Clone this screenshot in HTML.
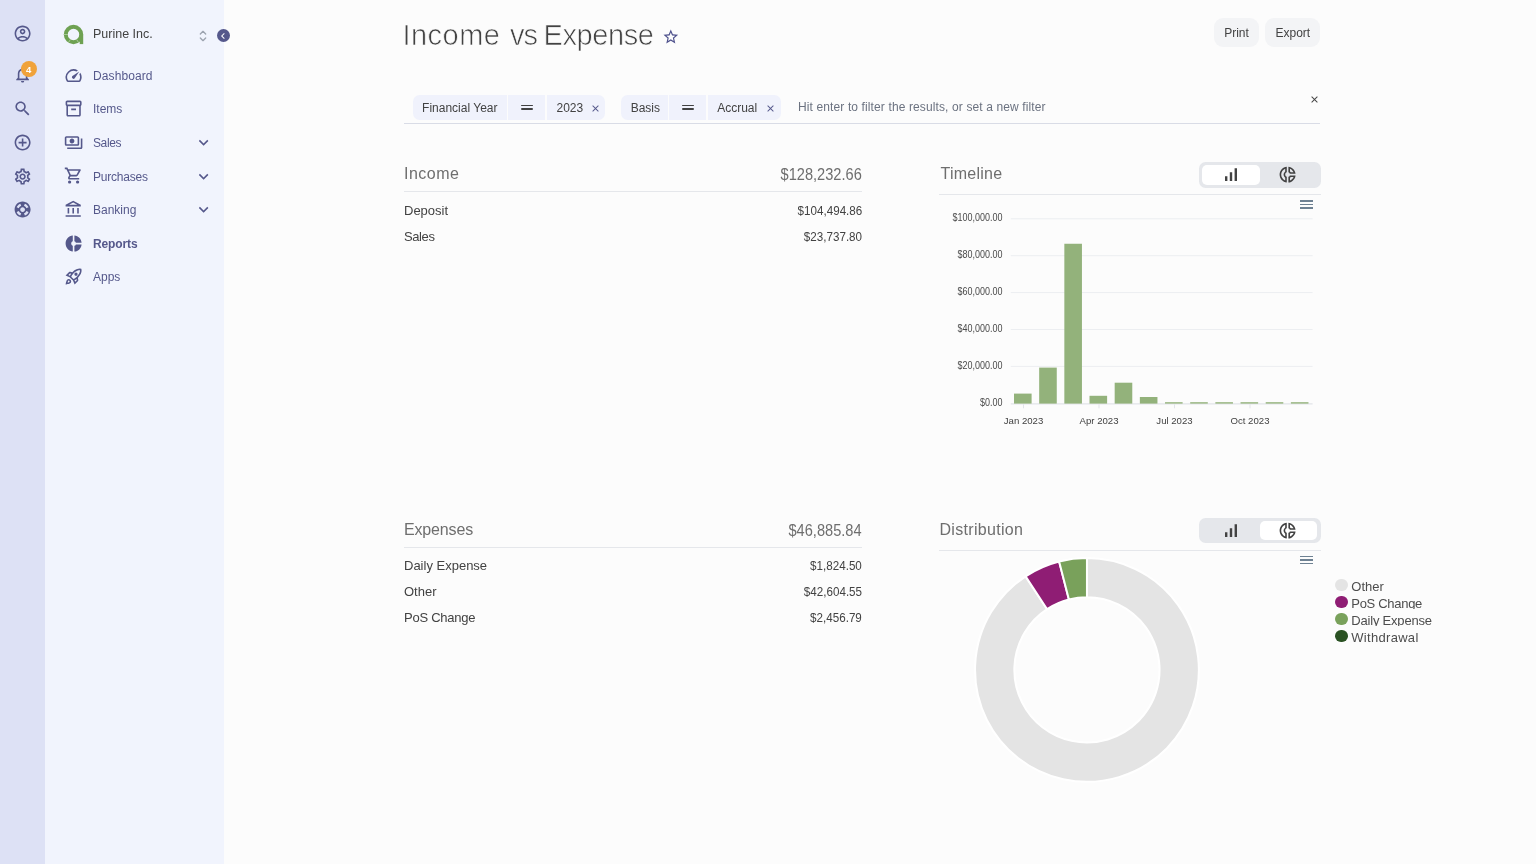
<!DOCTYPE html>
<html lang="en">
<head>
<meta charset="utf-8">
<title>Income vs Expense</title>
<style>
*{box-sizing:border-box;margin:0;padding:0}
html,body{width:1536px;height:864px;overflow:hidden;background:#fcfcfc}
body{font-family:"Liberation Sans",sans-serif;color:#424242;position:relative;font-size:13px}
.abs{position:absolute}
svg{display:block}
/* rail + sidebar */
#rail{position:absolute;left:0;top:0;width:44.8px;height:864px;background:#dde1f5}
#side{position:absolute;left:44.8px;top:0;width:179.2px;height:864px;background:#f1f4fd}
.ri{position:absolute;color:#55588b;fill:#55588b}
.mi{position:absolute;left:0;width:224px;height:20px;color:#55588b;font-size:12px;line-height:20px}
.mi svg{position:absolute;fill:#55588b}
.mi span{position:absolute;left:93px;top:.5px;white-space:nowrap}
.mi .chev{left:194px;top:1px}

/* main */
#title{position:absolute;left:402.400px;top:14.500px;height:40px;line-height:40px;font-size:29px;color:#424242;white-space:nowrap;letter-spacing:-.25px;-webkit-text-stroke:.7px #fcfcfc}
.btn{position:absolute;top:18px;height:29px;border-radius:9px;background:#f3f4f6;color:#424242;font-size:12px;line-height:31px;text-align:center;white-space:nowrap}
.chip{position:absolute;top:95px;height:25px;background:#f0f2fc;color:#424242;font-size:12px;line-height:25.300px;white-space:nowrap}
.chip span{position:absolute;top:.800px}
.chip svg{position:absolute;fill:#55588b}
.eq{position:absolute;left:12.300px;width:12.700px;height:1.800px;background:#424242;border-radius:1px}
.sect{position:absolute;font-size:16px;line-height:24px;height:24px;color:#6e6e6e;white-space:nowrap}
.row{position:absolute;font-size:13px;line-height:20px;height:20px;color:#424242;white-space:nowrap}
.r{text-align:right}
.row.r{font-size:13px}
.row.r span{display:inline-block;transform:scaleX(.895);transform-origin:100% 50%}
.sect.v{font-size:16.5px}
.sect.v span{display:inline-block;transform:scaleX(.885);transform-origin:100% 50%}
.hr{position:absolute;height:1px;background:#e5e7eb}
.tog{position:absolute;left:1199px;width:121.600px;height:25.700px;border-radius:6.500px;background:#e5e7eb}
.tog i{position:absolute;top:3px;width:57.800px;height:19.500px;border-radius:5px;background:#fff}
.tog svg{position:absolute;top:3.300px;fill:#424242}
.burger{position:absolute;left:1300.300px;width:12.600px;height:9px}
.burger b{position:absolute;left:0;width:12.600px;height:1.500px;background:#6e8192}

.lg{position:absolute;left:1335px;width:180px;height:13.2px;font-size:13px;color:#4d4d4d;white-space:nowrap}
.lg i{position:absolute;left:0;top:-.7px;width:12.600px;height:12.600px;border-radius:50%}
.lg u{position:absolute;left:16.300px;top:0;width:160px;height:12.600px;overflow:hidden;text-decoration:none}
.lg span{position:absolute;left:0;top:0;line-height:15px;height:15px}
</style>
</head>
<body>
<svg width="0" height="0" style="position:absolute">
<defs>
<symbol id="i-user" viewBox="0 0 24 24"><path d="M12 2C6.48 2 2 6.48 2 12s4.48 10 10 10 10-4.480 10-10S17.520 2 12 2zM7.350 18.500C8.660 17.560 10.260 17 12 17s3.340.560 4.650 1.500C15.340 19.440 13.740 20 12 20s-3.340-.560-4.650-1.500zm10.790-1.380C16.450 15.800 14.320 15 12 15s-4.450.800-6.140 2.120C4.700 15.730 4 13.950 4 12c0-4.420 3.580-8 8-8s8 3.580 8 8c0 1.950-.700 3.730-1.860 5.120z"/><path d="M12 6c-1.930 0-3.500 1.570-3.500 3.500S10.070 13 12 13s3.500-1.570 3.500-3.500S13.930 6 12 6zm0 5c-.830 0-1.500-.670-1.500-1.500S11.170 8 12 8s1.500.670 1.500 1.500S12.830 11 12 11z"/></symbol>
<symbol id="i-bell" viewBox="0 0 24 24"><path d="M12 22c1.100 0 2-.900 2-2h-4c0 1.100.900 2 2 2zm6-6v-5c0-3.070-1.630-5.640-4.500-6.320V4c0-.830-.670-1.500-1.500-1.500s-1.500.670-1.500 1.500v.680C7.640 5.360 6 7.920 6 11v5l-2 2v1h16v-1l-2-2zm-2 1H8v-6c0-2.480 1.510-4.500 4-4.500s4 2.020 4 4.500v6z"/></symbol>
<symbol id="i-search" viewBox="0 0 24 24"><path d="M15.500 14h-.790l-.280-.270C15.410 12.590 16 11.110 16 9.500 16 5.910 13.090 3 9.500 3S3 5.910 3 9.500 5.910 16 9.500 16c1.610 0 3.090-.590 4.230-1.570l.270.280v.790l5 4.990L20.490 19l-4.990-5zm-6 0C7.010 14 5 11.990 5 9.500S7.010 5 9.500 5 14 7.010 14 9.500 11.990 14 9.500 14z"/></symbol>
<symbol id="i-add" viewBox="0 0 24 24"><path d="M13 7h-2v4H7v2h4v4h2v-4h4v-2h-4V7zm-1-5C6.480 2 2 6.480 2 12s4.480 10 10 10 10-4.480 10-10S17.520 2 12 2zm0 18c-4.410 0-8-3.590-8-8s3.590-8 8-8 8 3.590 8 8-3.590 8-8 8z"/></symbol>
<symbol id="i-gear" viewBox="0 0 24 24"><path d="M19.430 12.980c.040-.320.070-.640.070-.980 0-.340-.030-.660-.070-.980l2.110-1.650c.190-.150.240-.420.120-.640l-2-3.460c-.090-.160-.260-.250-.440-.250-.060 0-.120.010-.170.030l-2.490 1c-.520-.400-1.080-.730-1.690-.980l-.380-2.650C14.460 2.180 14.250 2 14 2h-4c-.250 0-.460.180-.490.420l-.380 2.650c-.610.250-1.170.590-1.690.980l-2.490-1c-.060-.020-.120-.030-.180-.030-.170 0-.340.090-.430.250l-2 3.460c-.130.220-.070.490.120.640l2.110 1.650c-.040.320-.070.650-.070.980 0 .330.030.660.070.980l-2.110 1.650c-.190.150-.240.420-.120.640l2 3.460c.090.160.260.250.440.250.060 0 .120-.010.170-.030l2.490-1c.520.400 1.080.730 1.690.980l.380 2.650c.030.240.240.420.490.420h4c.250 0 .460-.180.490-.420l.380-2.650c.610-.250 1.170-.590 1.690-.980l2.490 1c.060.020.120.030.180.030.170 0 .340-.090.430-.250l2-3.460c.120-.220.070-.490-.120-.640l-2.110-1.650zm-1.980-1.710c.040.310.050.520.050.730 0 .210-.020.430-.050.730l-.140 1.130.890.700 1.080.840-.700 1.210-1.270-.510-1.040-.420-.900.680c-.430.320-.840.560-1.250.730l-1.060.430-.160 1.130-.200 1.350h-1.400l-.190-1.350-.160-1.130-1.060-.430c-.430-.180-.830-.410-1.230-.710l-.910-.700-1.060.430-1.270.510-.700-1.210 1.080-.840.890-.700-.140-1.130c-.030-.310-.050-.540-.050-.740s.020-.430.050-.730l.140-1.130-.890-.700-1.080-.840.700-1.210 1.270.510 1.040.420.900-.680c.430-.320.840-.560 1.250-.730l1.060-.430.160-1.130.200-1.350h1.390l.190 1.350.160 1.130 1.060.430c.430.180.830.410 1.230.710l.910.700 1.060-.430 1.270-.510.700 1.210-1.070.850-.890.700.140 1.130zM12 8c-2.210 0-4 1.790-4 4s1.790 4 4 4 4-1.790 4-4-1.790-4-4-4zm0 6c-1.100 0-2-.900-2-2s.900-2 2-2 2 .900 2 2-.900 2-2 2z"/></symbol>
<symbol id="i-support" viewBox="0 0 24 24"><path d="M12 2C6.480 2 2 6.480 2 12s4.480 10 10 10 10-4.480 10-10S17.520 2 12 2zm7.460 7.120l-2.780 1.150c-.510-1.360-1.580-2.440-2.950-2.940l1.150-2.780c2.100.800 3.770 2.470 4.580 4.570zM12 15c-1.660 0-3-1.340-3-3s1.340-3 3-3 3 1.340 3 3-1.340 3-3 3zM9.130 4.540l1.170 2.780c-1.380.500-2.470 1.590-2.980 2.970L4.540 9.130c.810-2.110 2.480-3.780 4.590-4.590zM4.540 14.870l2.780-1.150c.510 1.380 1.590 2.460 2.970 2.960l-1.170 2.780c-2.100-.810-3.770-2.480-4.580-4.590zm10.340 4.590l-1.150-2.780c1.370-.510 2.450-1.590 2.950-2.970l2.780 1.170c-.810 2.100-2.480 3.770-4.580 4.580z"/></symbol>
<symbol id="i-speed" viewBox="0 0 24 24"><path d="M20.380 8.570l-1.230 1.850a8 8 0 0 1-.220 7.580H5.070A8 8 0 0 1 15.580 6.850l1.850-1.230A10 10 0 0 0 3.350 19a2 2 0 0 0 1.720 1h13.850a2 2 0 0 0 1.740-1 10 10 0 0 0-.270-10.440zm-9.790 6.840a2 2 0 0 0 2.830 0l5.660-8.490-8.490 5.660a2 2 0 0 0 0 2.830z"/></symbol>
<symbol id="i-inv" viewBox="0 0 24 24"><path d="M20 2H4c-1 0-2 .900-2 2v3.010c0 .720.430 1.340 1 1.690V20c0 1.100 1.100 2 2 2h14c.900 0 2-.900 2-2V8.700c.570-.350 1-.970 1-1.690V4c0-1.100-1-2-2-2zm-1 18H5V9h14v11zm1-13H4V4h16v3z"/><path d="M9 12h6v2H9z"/></symbol>
<symbol id="i-pay" viewBox="0 0 24 24"><path d="M19 14V6c0-1.100-.900-2-2-2H3c-1.100 0-2 .900-2 2v8c0 1.100.900 2 2 2h14c1.100 0 2-.900 2-2zm-2 0H3V6h14v8zm-7-7c-1.660 0-3 1.340-3 3s1.340 3 3 3 3-1.340 3-3-1.340-3-3-3zm13 0v11c0 1.100-.900 2-2 2H4v-2h17V7h2z"/></symbol>
<symbol id="i-cart" viewBox="0 0 24 24"><path d="M15.550 13c.750 0 1.410-.410 1.750-1.030l3.580-6.490c.370-.660-.110-1.480-.870-1.480H5.210l-.940-2H1v2h2l3.600 7.590-1.350 2.440C4.520 15.370 5.480 17 7 17h12v-2H7l1.100-2h7.450zM6.160 6h12.150l-2.760 5H8.530L6.160 6zM7 18c-1.100 0-1.990.900-1.990 2S5.900 22 7 22s2-.900 2-2-.900-2-2-2zm10 0c-1.100 0-1.990.900-1.990 2s.890 2 1.990 2 2-.900 2-2-.900-2-2-2z"/></symbol>
<symbol id="i-bank" viewBox="0 0 24 24"><path d="M6.500 10h-2v7h2v-7zm6 0h-2v7h2v-7zm8.500 9H2v2h19v-2zm-2.500-9h-2v7h2v-7zm-7-6.740L16.710 6H6.290l5.210-2.740m0-2.260L2 6v2h19V6l-9.500-5z"/></symbol>
<symbol id="i-donutf" viewBox="0 0 24 24"><path d="M11 9.160V2c-5 .500-9 4.790-9 10s4 9.500 9 10v-7.160c-1-.410-2-1.520-2-2.840s1-2.430 2-2.840zM14.860 11H22c-.480-4.750-4-8.530-9-9v7.160c1 .300 1.520.980 1.860 1.840zM13 14.840V22c5-.470 8.520-4.250 9-9h-7.140c-.340.860-.860 1.540-1.860 1.840z"/></symbol>
<symbol id="i-donuto" viewBox="0 0 24 24"><path d="M14.820 11h7.130c-.470-4.720-4.230-8.480-8.950-8.950v7.130c.850.310 1.510.970 1.820 1.820zM15 4.580C17 5.400 18.600 7 19.420 9h-3.430c-.280-.370-.620-.710-.990-.990V4.580zM2 12c0 5.190 3.950 9.450 9 9.950v-7.130C9.840 14.400 9 13.300 9 12c0-1.300.840-2.400 2-2.820V2.050c-5.050.500-9 4.760-9 9.950zm7-7.420v3.440c-1.230.920-2 2.390-2 3.980 0 1.590.770 3.060 2 3.990v3.440C6.040 18.240 4 15.350 4 12c0-3.350 2.040-6.240 5-7.420zm4 10.240v7.130c4.720-.470 8.480-4.230 8.950-8.950h-7.130c-.310.850-.970 1.510-1.820 1.820zm2 1.170c.370-.280.710-.610.990-.990h3.430C18.600 17 17 18.600 15 19.420v-3.430z"/></symbol>
<symbol id="i-rocket" viewBox="0 0 24 24"><path d="M6 15c-.830 0-1.580.340-2.120.880C2.700 17.060 2 22 2 22s4.940-.700 6.120-1.880C8.660 19.580 9 18.830 9 18c0-1.660-1.340-3-3-3zm.710 3.710c-.280.280-2.170.760-2.170.760s.470-1.880.760-2.170c.170-.190.420-.300.700-.300.550 0 1 .450 1 1 0 .280-.110.530-.290.710zm10.710-5.060c6.360-6.360 4.240-11.310 4.240-11.310S16.710.220 10.350 6.580l-2.490-.500c-.650-.130-1.330.080-1.810.550L2 10.690l5 2.140L11.170 17l2.140 5 4.050-4.050c.470-.470.680-1.150.550-1.810l-.490-2.490zM7.410 10.830l-1.910-.820 1.970-1.970 1.440.290c-.570.830-1.080 1.700-1.500 2.500zm6.580 7.670l-.820-1.910c.800-.420 1.670-.930 2.490-1.500l.290 1.440-1.960 1.970zM16 12.240c-1.320 1.320-3.380 2.400-4.040 2.730l-2.930-2.930c.320-.650 1.400-2.710 2.730-4.040 4.680-4.680 8.230-3.990 8.230-3.990s.690 3.550-3.990 8.230zM15 11c1.100 0 2-.900 2-2s-.900-2-2-2-2 .900-2 2 .900 2 2 2z"/></symbol>
<symbol id="i-more" viewBox="0 0 24 24"><path d="M16.590 8.590L12 13.170 7.410 8.590 6 10l6 6 6-6z"/></symbol>
<symbol id="i-unfold" viewBox="0 0 24 24"><path d="M12 5.830L15.170 9l1.410-1.410L12 3 7.410 7.590 8.830 9 12 5.830zm0 12.340L8.830 15l-1.410 1.410L12 21l4.590-4.590L15.170 15 12 18.170z"/></symbol>
<symbol id="i-left" viewBox="0 0 24 24"><path d="M15.410 7.410L14 6l-6 6 6 6 1.410-1.410L10.830 12z"/></symbol>
<symbol id="i-bars" viewBox="0 0 24 24"><path d="M17 4h3v16h-3zM5 14h3v6H5zm6-5h3v11h-3z"/></symbol>
<symbol id="i-star" viewBox="0 0 24 24"><path d="M22 9.240l-7.190-.620L12 2 9.190 8.630 2 9.240l5.460 4.730L5.820 21 12 17.270 18.180 21l-1.630-7.030L22 9.240zM12 15.400l-3.760 2.270 1-4.280-3.320-2.880 4.380-.380L12 6.100l1.710 4.040 4.380.380-3.320 2.880 1 4.280L12 15.400z"/></symbol>
<symbol id="i-close" viewBox="0 0 24 24"><path d="M19 6.410L17.590 5 12 10.590 6.410 5 5 6.410 10.590 12 5 17.590 6.410 19 12 13.410 17.590 19 19 17.590 13.410 12z"/></symbol>
</defs>
</svg>

<div id="app" style="position:absolute;left:0;top:0;width:1536px;height:864px;will-change:transform">
<div id="rail"></div>
<div id="side"></div>

<!-- rail icons -->
<svg class="ri" style="left:12.8px;top:23.8px" width="19.2" height="19.2"><use href="#i-user"/></svg>
<svg class="ri" style="left:12.8px;top:65px" width="19.2" height="19.2"><use href="#i-bell"/></svg>
<div class="abs" style="left:21px;top:61.2px;width:16.2px;height:16.2px;border-radius:50%;background:#f0a23a;color:#fff;font-size:9.5px;font-weight:bold;line-height:17.600px;text-align:center;text-indent:-1px">4</div>
<svg class="ri" style="left:12.8px;top:99.3px" width="19.2" height="19.2"><use href="#i-search"/></svg>
<svg class="ri" style="left:12.8px;top:132.9px" width="19.2" height="19.2"><use href="#i-add"/></svg>
<svg class="ri" style="left:12.8px;top:166.5px" width="19.2" height="19.2"><use href="#i-gear"/></svg>
<svg class="ri" style="left:12.8px;top:200.1px" width="19.2" height="19.2"><use href="#i-support"/></svg>


<!-- company -->
<svg class="abs" style="left:63px;top:23.600px" width="21" height="21" viewBox="0 0 21 21">
  <circle cx="10.5" cy="10.5" r="7.725" fill="none" stroke="#6ea152" stroke-width="3.95"/>
  <rect x="16.7" y="10.5" width="3.5" height="9.6" fill="#6ea152"/>
  <path d="M4.95 10.50L0.60 10.50M7.56 15.21L5.25 18.90M13.44 15.21L15.75 18.90" stroke="#b4d0a6" stroke-width="0.8" fill="none"/>
</svg>
<div class="abs" style="left:93px;top:24.400px;height:20px;line-height:20px;font-size:12.5px;color:#424242;white-space:nowrap" id="cname">Purine Inc.</div>
<svg class="abs" style="left:195.300px;top:27.800px" width="16" height="16" viewBox="0 0 24 24" fill="none" stroke="#9ca3af" stroke-width="2" stroke-linecap="round" stroke-linejoin="round"><path d="M8 9l4-4 4 4m0 6l-4 4-4-4"/></svg>
<div class="abs" style="left:216.900px;top:29.200px;width:13px;height:13px;border-radius:50%;background:#55588b"></div>
<svg class="abs" style="left:217.400px;top:29.700px;fill:#fff" width="12" height="12"><use href="#i-left"/></svg>

<!-- menu -->
<div class="mi" style="top:65.300px"><svg style="left:63.900px;top:.400px" width="19.200" height="19.200"><use href="#i-speed"/></svg><span style="letter-spacing:.1px">Dashboard</span></div>
<div class="mi" style="top:98.900px"><svg style="left:63.900px;top:.400px" width="19.200" height="19.200"><use href="#i-inv"/></svg><span>Items</span></div>
<div class="mi" style="top:132.500px"><svg style="left:63.900px;top:.400px" width="19.200" height="19.200"><use href="#i-pay"/></svg><span style="letter-spacing:-.4px">Sales</span><svg class="chev" style="left:193.800px;top:.600px" width="19.200" height="19.200"><use href="#i-more"/></svg></div>
<div class="mi" style="top:166.100px"><svg style="left:63.900px;top:.400px" width="19.200" height="19.200"><use href="#i-cart"/></svg><span style="letter-spacing:-.2px">Purchases</span><svg class="chev" style="left:193.800px;top:.600px" width="19.200" height="19.200"><use href="#i-more"/></svg></div>
<div class="mi" style="top:199.700px"><svg style="left:63.900px;top:.400px" width="19.200" height="19.200"><use href="#i-bank"/></svg><span>Banking</span><svg class="chev" style="left:193.800px;top:.600px" width="19.200" height="19.200"><use href="#i-more"/></svg></div>
<div class="mi" style="top:233.300px"><svg style="left:63.900px;top:.400px" width="19.200" height="19.200"><use href="#i-donutf"/></svg><span style="font-weight:bold;letter-spacing:-.12px">Reports</span></div>
<div class="mi" style="top:266.900px"><svg style="left:63.900px;top:.400px" width="19.200" height="19.200"><use href="#i-rocket"/></svg><span>Apps</span></div>


<!-- header -->
<div id="title"><span style="letter-spacing:.49px">Income</span> <span style="letter-spacing:-.9px;margin-left:1.7px">vs</span> <span style="letter-spacing:-.43px;margin-left:-1.4px">Expense</span></div>
<svg class="abs" style="left:661.600px;top:28px;fill:#4f528d" width="17.6" height="17.6"><use href="#i-star"/></svg>
<div class="btn" style="left:1214px;width:45px" id="bprint">Print</div>
<div class="btn" style="left:1265.300px;width:55px" id="bexport">Export</div>

<!-- filter bar -->
<div class="chip" style="left:412.500px;width:94.300px;border-radius:6.500px 0 0 6.500px"><span style="left:9.600px" id="c1">Financial Year</span></div>
<div class="chip" style="left:508.300px;width:37px"><div class="eq" style="top:9.600px"></div><div class="eq" style="top:13.400px"></div></div>
<div class="chip" style="left:547.100px;width:58px;border-radius:0 6.500px 6.500px 0"><span style="left:9.400px" id="c2">2023</span><svg style="left:42.600px;top:7.700px" width="11" height="11"><use href="#i-close"/></svg></div>
<div class="chip" style="left:620.800px;width:46.900px;border-radius:6.500px 0 0 6.500px"><span style="left:9.900px" id="c3">Basis</span></div>
<div class="chip" style="left:669.300px;width:37px"><div class="eq" style="top:9.600px"></div><div class="eq" style="top:13.400px"></div></div>
<div class="chip" style="left:707.800px;width:72.900px;border-radius:0 6.500px 6.500px 0"><span style="left:9.400px" id="c4">Accrual</span><svg style="left:57.400px;top:7.700px" width="11" height="11"><use href="#i-close"/></svg></div>
<div class="abs" style="left:798px;top:97px;height:20px;line-height:20px;font-size:12px;letter-spacing:.12px;color:#6b7280;white-space:nowrap" id="ph">Hit enter to filter the results, or set a new filter</div>
<svg class="abs" style="left:1308.500px;top:94.300px;fill:#424242" width="11" height="11"><use href="#i-close"/></svg>
<div class="hr" style="left:404px;top:122.800px;width:916px;background:#d9dce6"></div>

<!-- income -->
<div class="sect" style="left:404px;top:161.500px;letter-spacing:.5px" id="s1">Income</div>
<div class="sect r v" style="left:662px;width:200px;top:161.500px" id="s1v"><span>$128,232.66</span></div>
<div class="hr" style="left:404px;top:191px;width:458px"></div>
<div class="row" style="left:404px;top:200.800px" id="r1">Deposit</div>
<div class="row r" style="left:662px;width:200px;top:200.800px"><span>$104,494.86</span></div>
<div class="row" style="left:404px;top:226.500px" id="r2"><span style="letter-spacing:-.4px">Sales</span></div>
<div class="row r" style="left:662px;width:200px;top:226.500px"><span>$23,737.80</span></div>

<!-- expenses -->
<div class="sect" style="left:404px;top:517.500px;letter-spacing:-.15px" id="s2">Expenses</div>
<div class="sect r v" style="left:662px;width:200px;top:517.500px"><span>$46,885.84</span></div>
<div class="hr" style="left:404px;top:546.500px;width:458px"></div>
<div class="row" style="left:404px;top:556.300px">Daily Expense</div>
<div class="row r" style="left:662px;width:200px;top:556.300px"><span>$1,824.50</span></div>
<div class="row" style="left:404px;top:582px">Other</div>
<div class="row r" style="left:662px;width:200px;top:582px"><span>$42,604.55</span></div>
<div class="row" style="left:404px;top:607.700px;letter-spacing:-.25px">PoS Change</div>
<div class="row r" style="left:662px;width:200px;top:607.700px"><span>$2,456.79</span></div>

<!-- timeline header -->
<div class="sect" style="left:940.500px;top:161.500px;letter-spacing:.25px" id="s3">Timeline</div>
<div class="tog" style="top:162px"><i style="left:3px"></i><svg style="left:22.200px" width="19.2" height="19.2"><use href="#i-bars"/></svg><svg style="left:79.400px" width="19.2" height="19.2"><use href="#i-donuto"/></svg></div>
<div class="hr" style="left:939px;top:194px;width:381.500px"></div>
<div class="burger" style="top:200.300px"><b style="top:0"></b><b style="top:3.600px"></b><b style="top:7.200px"></b></div>
<svg class="abs" style="left:0;top:0" width="1536" height="864" viewBox="0 0 1536 864" id="chart1">
<line x1="1010.8" x2="1312.6" y1="218.8" y2="218.8" stroke="#eceef1" stroke-width="1"/>
<line x1="1010.8" x2="1312.6" y1="255.7" y2="255.7" stroke="#eceef1" stroke-width="1"/>
<line x1="1010.8" x2="1312.6" y1="292.6" y2="292.6" stroke="#eceef1" stroke-width="1"/>
<line x1="1010.8" x2="1312.6" y1="329.5" y2="329.5" stroke="#eceef1" stroke-width="1"/>
<line x1="1010.8" x2="1312.6" y1="366.4" y2="366.4" stroke="#eceef1" stroke-width="1"/>
<line x1="1010.8" x2="1312.6" y1="403.90000000000003" y2="403.90000000000003" stroke="#e2e4e9" stroke-width="1.2"/>
<g transform="translate(1002.5,221.4) scale(.9,1)"><text x="0" y="0" text-anchor="end" font-size="10" fill="#4a4a4a" font-family="Liberation Sans, sans-serif">$100,000.00</text></g>
<g transform="translate(1002.5,258.3) scale(.9,1)"><text x="0" y="0" text-anchor="end" font-size="10" fill="#4a4a4a" font-family="Liberation Sans, sans-serif">$80,000.00</text></g>
<g transform="translate(1002.5,295.2) scale(.9,1)"><text x="0" y="0" text-anchor="end" font-size="10" fill="#4a4a4a" font-family="Liberation Sans, sans-serif">$60,000.00</text></g>
<g transform="translate(1002.5,332.1) scale(.9,1)"><text x="0" y="0" text-anchor="end" font-size="10" fill="#4a4a4a" font-family="Liberation Sans, sans-serif">$40,000.00</text></g>
<g transform="translate(1002.5,369.0) scale(.9,1)"><text x="0" y="0" text-anchor="end" font-size="10" fill="#4a4a4a" font-family="Liberation Sans, sans-serif">$20,000.00</text></g>
<g transform="translate(1002.5,405.9) scale(.9,1)"><text x="0" y="0" text-anchor="end" font-size="10" fill="#4a4a4a" font-family="Liberation Sans, sans-serif">$0.00</text></g>
<rect x="1014.00" y="393.6" width="17.6" height="10.00" fill="#93b27b"/>
<rect x="1039.17" y="367.6" width="17.6" height="36.00" fill="#93b27b"/>
<rect x="1064.34" y="243.75" width="17.6" height="159.85" fill="#93b27b"/>
<rect x="1089.51" y="395.8" width="17.6" height="7.80" fill="#93b27b"/>
<rect x="1114.68" y="382.7" width="17.6" height="20.90" fill="#93b27b"/>
<rect x="1139.85" y="397.0" width="17.6" height="6.60" fill="#93b27b"/>
<rect x="1165.02" y="402.2" width="17.6" height="1.40" fill="#93b27b"/>
<rect x="1190.19" y="402.2" width="17.6" height="1.40" fill="#93b27b"/>
<rect x="1215.36" y="402.2" width="17.6" height="1.40" fill="#93b27b"/>
<rect x="1240.53" y="402.2" width="17.6" height="1.40" fill="#93b27b"/>
<rect x="1265.70" y="402.2" width="17.6" height="1.40" fill="#93b27b"/>
<rect x="1290.87" y="402.2" width="17.6" height="1.40" fill="#93b27b"/>
<line x1="1023.5" x2="1023.5" y1="404.3" y2="408.3" stroke="#e2e4e9" stroke-width="1"/>
<text x="1023.5" y="423.7" text-anchor="middle" font-size="9.6" fill="#424242" font-family="Liberation Sans, sans-serif">Jan 2023</text>
<line x1="1099.0" x2="1099.0" y1="404.3" y2="408.3" stroke="#e2e4e9" stroke-width="1"/>
<text x="1099.0" y="423.7" text-anchor="middle" font-size="9.6" fill="#424242" font-family="Liberation Sans, sans-serif">Apr 2023</text>
<line x1="1174.5" x2="1174.5" y1="404.3" y2="408.3" stroke="#e2e4e9" stroke-width="1"/>
<text x="1174.5" y="423.7" text-anchor="middle" font-size="9.6" fill="#424242" font-family="Liberation Sans, sans-serif">Jul 2023</text>
<line x1="1250.0" x2="1250.0" y1="404.3" y2="408.3" stroke="#e2e4e9" stroke-width="1"/>
<text x="1250.0" y="423.7" text-anchor="middle" font-size="9.6" fill="#424242" font-family="Liberation Sans, sans-serif">Oct 2023</text>
</svg>

<!-- distribution header -->
<div class="sect" style="left:939.500px;top:517.600px;letter-spacing:.3px" id="s4">Distribution</div>
<div class="tog" style="top:517.500px"><i style="left:60.800px;width:57px"></i><svg style="left:22.200px" width="19.2" height="19.2"><use href="#i-bars"/></svg><svg style="left:79.400px" width="19.2" height="19.2"><use href="#i-donuto"/></svg></div>
<div class="hr" style="left:939px;top:549.500px;width:381.500px"></div>
<div class="burger" style="top:555.800px"><b style="top:0"></b><b style="top:3.600px"></b><b style="top:7.200px"></b></div>
<svg class="abs" style="left:0;top:0" width="1536" height="864" viewBox="0 0 1536 864" id="chart2">
<path d="M1086.95 558.00A111.9 111.9 0 1 1 1025.58 576.33L1047.13 609.19A72.6 72.6 0 1 0 1086.95 597.30Z" fill="#e4e4e4" stroke="#ffffff" stroke-width="2" stroke-linejoin="round"/>
<path d="M1025.58 576.33A111.9 111.9 0 0 1 1059.12 561.52L1068.90 599.58A72.6 72.6 0 0 0 1047.13 609.19Z" fill="#8f1d74" stroke="#ffffff" stroke-width="2" stroke-linejoin="round"/>
<path d="M1059.12 561.52A111.9 111.9 0 0 1 1086.95 558.00L1086.95 597.30A72.6 72.6 0 0 0 1068.90 599.58Z" fill="#79a15b" stroke="#ffffff" stroke-width="2" stroke-linejoin="round"/>
</svg>
<div class="lg" style="top:579.2px"><i style="background:#e4e4e4"></i><u><span>Other</span></u></div>
<div class="lg" style="top:596.2px"><i style="background:#8f1d74"></i><u><span style="letter-spacing:-.3px">PoS Change</span></u></div>
<div class="lg" style="top:613.2px"><i style="background:#79a15b"></i><u><span style="letter-spacing:-.2px">Daily Expense</span></u></div>
<div class="lg" style="top:630.3px"><i style="background:#2a5223"></i><u><span style="letter-spacing:.3px">Withdrawal</span></u></div>


</div>
</body>
</html>
